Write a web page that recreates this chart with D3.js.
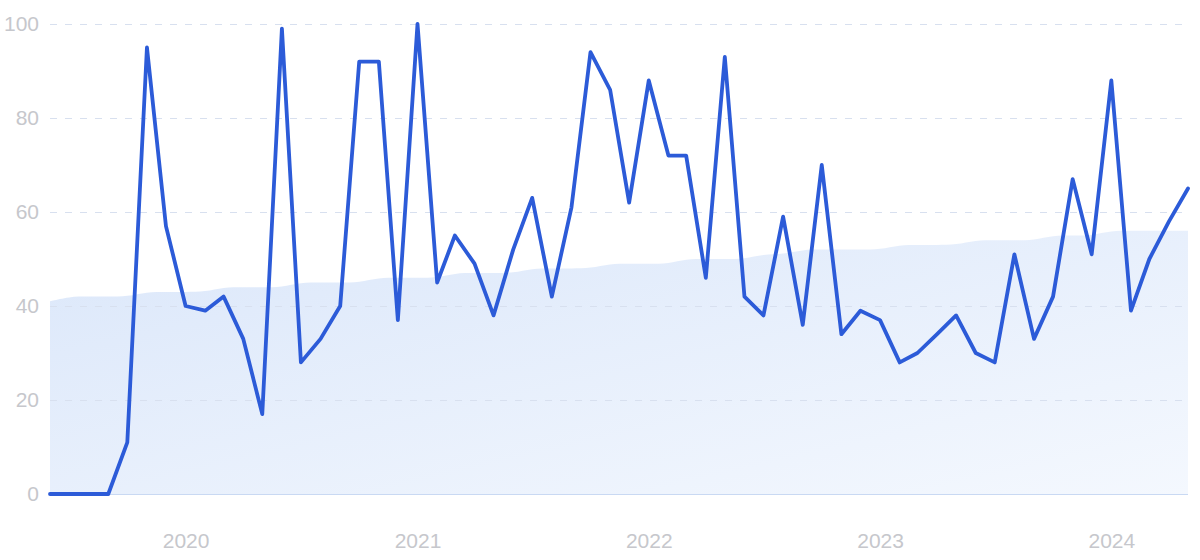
<!DOCTYPE html>
<html>
<head>
<meta charset="utf-8">
<script src="https://cdn.jsdelivr.net/npm/d3@7/dist/d3.min.js"></script>
<style>
  body { margin: 0; background: #fff; }
  svg { display: block; font-family: Inter, "Noto Sans", sans-serif; }
</style>
</head>
<body>
<svg id="chart" width="1200" height="560"></svg>
<script>
// monthly points, Jun 2019 .. May 2024
const months = d3.timeMonth.range(new Date(2019, 5, 1), new Date(2024, 5, 1));

const values = [
  0, 0, 0, 0, 11, 95, 57,
  40, 39, 42, 33, 17, 99, 28, 33, 40, 92, 92, 37,
  100, 45, 55, 49, 38, 52, 63, 42, 61, 94, 86, 62,
  88, 72, 72, 46, 93, 42, 38, 59, 36, 70, 34, 39,
  37, 28, 30, 34, 38, 30, 28, 51, 33, 42, 67, 51,
  88, 39, 50, 58, 65
];

const trend = [
  41, 42, 42, 42, 42, 43, 43,
  43, 43, 44, 44, 44, 44, 45, 45, 45, 45, 46, 46,
  46, 46, 47, 47, 47, 47, 48, 48, 48, 48, 49, 49,
  49, 49, 50, 50, 50, 50, 51, 51, 52, 52, 52, 52,
  52, 53, 53, 53, 53, 54, 54, 54, 54, 55, 55, 55,
  56, 56, 56, 56, 56
];

const yTicks = [0, 20, 40, 60, 80, 100];
const yearTicks = [2020, 2021, 2022, 2023, 2024];

const svg = d3.select("#chart");
const M = { left: 50, right: 1188, top: 24, bottom: 494 };

const x = d3.scaleTime()
  .domain([months[0], months[months.length - 1]])
  .range([M.left, M.right]);
const y = d3.scaleLinear().domain([0, 100]).range([M.bottom, M.top]);

const defs = svg.append("defs");
const grad = defs.append("linearGradient")
  .attr("id", "fill")
  .attr("x1", "0%").attr("y1", "0%")
  .attr("x2", "100%").attr("y2", "100%");
grad.append("stop").attr("offset", "0%").attr("stop-color", "#dbe7fa");
grad.append("stop").attr("offset", "100%").attr("stop-color", "#f4f8fe");

// trend area
svg.append("path")
  .datum(months)
  .attr("fill", "url(#fill)")
  .attr("d", d3.area()
    .x(d => x(d))
    .y0(y(0))
    .y1((d, i) => y(trend[i]))
    .curve(d3.curveBasis));

// grid
const yAxis = svg.append("g")
  .attr("transform", `translate(${M.left},0)`)
  .call(d3.axisLeft(y).tickValues(yTicks).tickSize(-(M.right - M.left - 4)).tickPadding(10));
yAxis.select(".domain").remove();
yAxis.selectAll(".tick line")
  .attr("stroke", "#d8e0ef")
  .attr("stroke-width", 1)
  .attr("stroke-dasharray", d => d === 0 ? null : "7,8");
yAxis.selectAll(".tick").filter(d => d === 0).select("line")
  .attr("stroke", "#c9d9f3")
  .attr("x2", M.right - M.left);
yAxis.selectAll(".tick text")
  .attr("fill", "#c6c7cc")
  .attr("font-size", 21)
  .attr("x", -11);

// x axis labels
const xAxis = svg.append("g")
  .attr("transform", `translate(0,${M.bottom})`)
  .call(d3.axisBottom(x)
    .tickValues(yearTicks.map(yr => new Date(yr, 0, 1)))
    .tickFormat(d3.timeFormat("%Y"))
    .tickSize(0)
    .tickPadding(39));
xAxis.select(".domain").remove();
xAxis.selectAll(".tick text")
  .attr("fill", "#c6c7cc")
  .attr("font-size", 21);

// line
svg.append("path")
  .datum(months)
  .attr("fill", "none")
  .attr("stroke", "#2c5bd8")
  .attr("stroke-width", 3.8)
  .attr("stroke-linejoin", "round")
  .attr("stroke-linecap", "round")
  .attr("d", d3.line()
    .x(d => x(d))
    .y((d, i) => y(values[i])));
</script>
</body>
</html>
